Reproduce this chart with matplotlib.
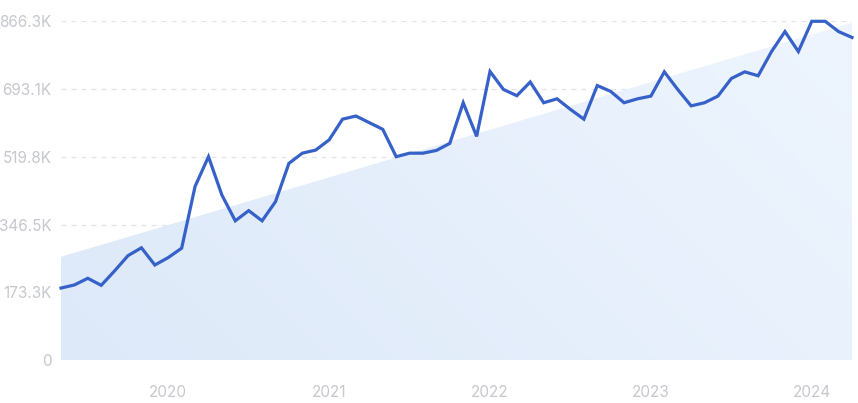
import numpy as np
import pandas as pd
import matplotlib
matplotlib.use("Agg")
import matplotlib.pyplot as plt
from matplotlib.patches import Polygon
from matplotlib.colors import LinearSegmentedColormap

# ---- data (monthly, May 2019 .. Apr 2024), values in thousands ----
start_month = "2019-05-01"
values_k = [184, 192, 209, 191, 228, 267, 287, 243,
            262, 286, 444, 520, 422, 356, 382, 356, 405, 503, 529, 537,
            563, 616, 624, 607, 590, 520, 529, 529, 536, 554, 658, 572,
            738, 692, 676, 711, 658, 668, 641, 616, 702, 687, 658, 668,
            675, 737, 692, 650, 658, 675, 720, 737, 727, 789, 840, 789,
            866.3, 866.3, 840, 825]
trend_start_k = 264
trend_end_k = 863
y_max_k = 866.3
y_tick_labels = ["0", "173.3K", "346.5K", "519.8K", "693.1K", "866.3K"]
year_labels = ["2020", "2021", "2022", "2023", "2024"]

dates = pd.date_range(start_month, periods=len(values_k), freq="MS")
x = np.arange(len(values_k))
year_ticks = [i for i, d in enumerate(dates) if d.month == 1]

plt.rcParams["font.family"] = ["Inter", "DejaVu Sans"]

fig = plt.figure(figsize=(8.58, 4.03), dpi=100)
ax = fig.add_axes([61 / 858, 1 - 360 / 403, (852 - 61) / 858, (360 - 21.3) / 403])

ax.set_xlim(x[0], x[-1])
ax.set_ylim(0, y_max_k)

# gradient-filled trend area
poly = Polygon([(x[0], 0), (x[0], trend_start_k), (x[-1], trend_end_k), (x[-1], 0)],
               closed=True, facecolor="none", edgecolor="none")
ax.add_patch(poly)
cmap = LinearSegmentedColormap.from_list("g", ["#dde9f9", "#eef5fe"])
gx, gy = np.meshgrid(np.linspace(0, 1, 200), np.linspace(0, 1, 200))
grad = (gx * 0.7 + (1 - gy) * 0.3)
im = ax.imshow(grad, extent=[x[0], x[-1], 0, y_max_k], origin="upper",
               cmap=cmap, aspect="auto", zorder=1)
im.set_clip_path(poly)

# grid lines
yt = [i * y_max_k / 5 for i in range(6)]
for v in yt[1:]:
    ax.axhline(v, color="#e1e4e9", lw=0.9, ls=(0, (4, 4)), zorder=0.5)
ax.axhline(0, color="#e3e8f0", lw=0.8, zorder=2)

ax.plot(x, values_k, color="#3561c9", lw=2.3, zorder=3, solid_joinstyle="miter",
        clip_on=False)

ax.set_yticks(yt)
ax.set_yticklabels(y_tick_labels)
ax.set_xticks(year_ticks)
ax.set_xticklabels(year_labels)
ax.tick_params(axis="both", length=0, labelsize=11, labelcolor="#c6c8ce")
ax.tick_params(axis="y", pad=7)
ax.tick_params(axis="x", pad=18)
for s in ax.spines.values():
    s.set_visible(False)

fig.savefig("out.png", dpi=100)
